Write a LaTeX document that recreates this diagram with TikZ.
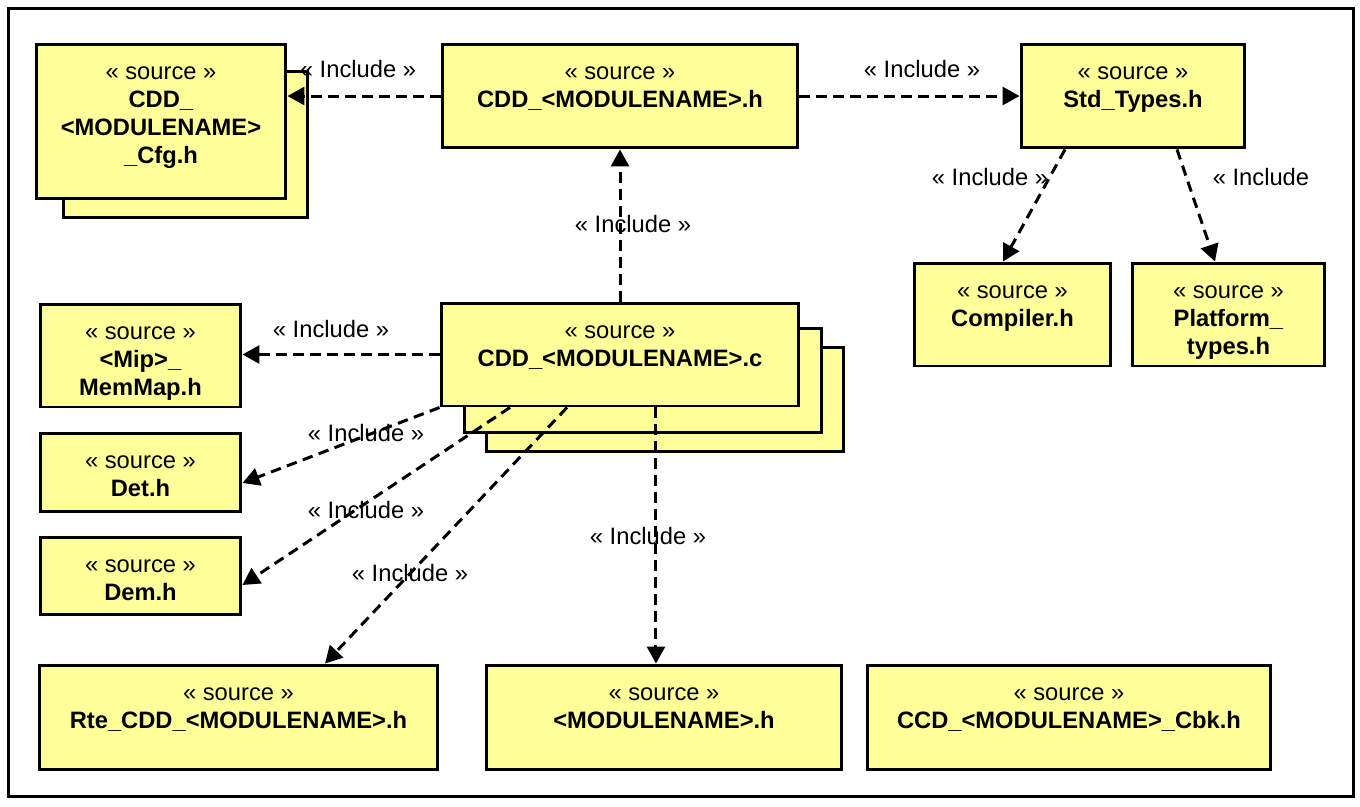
\documentclass[tikz,border=0pt]{standalone}
\usepackage{fontspec}
\setmainfont{Liberation Sans}
\usetikzlibrary{arrows.meta}

\definecolor{srcyellow}{RGB}{255,255,153}

\tikzset{
	srcbox/.style={draw, fill=srcyellow, line width=0.06cm, inner sep=0pt},
	boxsize/.style 2 args={minimum width=#1cm, minimum height=#2cm},
	srctext/.style={anchor=north, yshift=-0.48cm, align=center, inner sep=0pt, font=\fontsize{13.5}{15.9}\selectfont},
	incl/.style={line width=0.06cm, dash pattern=on 0.21cm off 0.13cm, -{Triangle[length=0.34cm, width=0.36cm]}},
	incltext/.style={inner sep=0pt, font=\fontsize{13.5}{15.9}\selectfont},
}

\begin{document}
\begin{tikzpicture}[x=0.02cm, y=-0.02cm]
		%%%%% START %%%%%
		\useasboundingbox (0, 0) rectangle (1360, 806);
		\draw[line width=0.06cm] (8.5, 8) rectangle (1353, 796);
		
		\node[srcbox, boxsize={4.9}{2.94}] (cfgback) at (185.5, 144.5) {};
		\node[srcbox, boxsize={5.0}{3.1}, label={[srctext]north:{« source »\\\textbf{CDD\_}\\\textbf{<MODULENAME>}\\\textbf{\_Cfg.h}}}] (cfg) at (161, 121.5) {};
		
		\node[srcbox, boxsize={7.12}{2.08}, label={[srctext]north:{« source »\\\textbf{CDD\_<MODULENAME>.h}}}] (cddh) at (620, 96) {};
		\node[srcbox, boxsize={4.48}{2.08}, label={[srctext]north:{« source »\\\textbf{Std\_Types.h}}}] (std) at (1133, 96) {};
		
		\node[srcbox, boxsize={3.94}{2.06}, label={[srctext]north:{« source »\\\textbf{Compiler.h}}}] (comp) at (1012.5, 314.5) {};
		\node[srcbox, boxsize={3.86}{2.06}, label={[srctext]north:{« source »\\\textbf{Platform\_}\\\textbf{types.h}}}] (plat) at (1228.5, 314.5) {};
		
		\node[srcbox, boxsize={7.16}{2.08}] (cddcback) at (665, 399) {};
		\node[srcbox, boxsize={7.16}{2.08}] (cddcmid) at (643, 380) {};
		\node[srcbox, boxsize={7.16}{2.06}, label={[srctext]north:{« source »\\\textbf{CDD\_<MODULENAME>.c}}}] (cddc) at (620, 354.5) {};
		
		\node[srcbox, boxsize={4.02}{2.06}, label={[srctext]north:{« source »\\\textbf{<Mip>\_}\\\textbf{MemMap.h}}}] (memmap) at (140.5, 355.5) {};
		\node[srcbox, boxsize={4.02}{1.56}, label={[srctext]north:{« source »\\\textbf{Det.h}}}] (det) at (140.5, 472) {};
		\node[srcbox, boxsize={4.02}{1.54}, label={[srctext]north:{« source »\\\textbf{Dem.h}}}] (dem) at (140.5, 575.5) {};
		
		\node[srcbox, boxsize={7.98}{2.08}, label={[srctext]north:{« source »\\\textbf{Rte\_CDD\_<MODULENAME>.h}}}] (rte) at (238.5, 717) {};
		\node[srcbox, boxsize={7.12}{2.08}, label={[srctext]north:{« source »\\\textbf{<MODULENAME>.h}}}] (modh) at (664, 717) {};
		\node[srcbox, boxsize={8.08}{2.08}, label={[srctext]north:{« source »\\\textbf{CCD\_<MODULENAME>\_Cbk.h}}}] (cbk) at (1069, 717) {};
		
		% include arrows
		\draw[incl] (cddh.west) -- (cddh.west -| cfg.east);
		\draw[incl] (cddh.east) -- (std.west);
		\draw[incl] (cddc.north) -- (cddh.south);
		\draw[incl] ([xshift=-1.36cm]std.south) -- ([xshift=-0.19cm]comp.north);
		\draw[incl] ([xshift=0.88cm]std.south) -- ([xshift=-0.27cm]plat.north);
		\draw[incl] (cddc.west) -- (cddc.west -| memmap.east);
		\draw[incl] (cddc.south west) -- ([yshift=-0.22cm]det.east);
		\draw[incl] ([xshift=-2.2cm]cddc.south) -- ([yshift=-0.19cm]dem.east);
		\draw[incl] ([xshift=-1.06cm]cddc.south) -- ([xshift=1.73cm]rte.north);
		\draw[incl] ([xshift=0.72cm]cddc.south) -- ([xshift=0.72cm]cddc.south |- modh.north);
		
		\node[incltext] (inccfg) at (358, 69) {« Include »};
		\node[incltext] (incstd) at (922, 69) {« Include »};
		\node[incltext] (inccddh) at (633, 224) {« Include »};
		\node[incltext] (inccomp) at (990, 177) {« Include »};
		\node[incltext] (incplat) at (1261, 177) {« Include};
		\node[incltext] (incmem) at (331, 329) {« Include »};
		\node[incltext] (incdet) at (366, 433) {« Include »};
		\node[incltext] (incdem) at (366, 510) {« Include »};
		\node[incltext] (incrte) at (410, 573) {« Include »};
		\node[incltext] (incmodh) at (648, 536) {« Include »};
		%%%%% END %%%%%
	\end{tikzpicture}
\end{document}
